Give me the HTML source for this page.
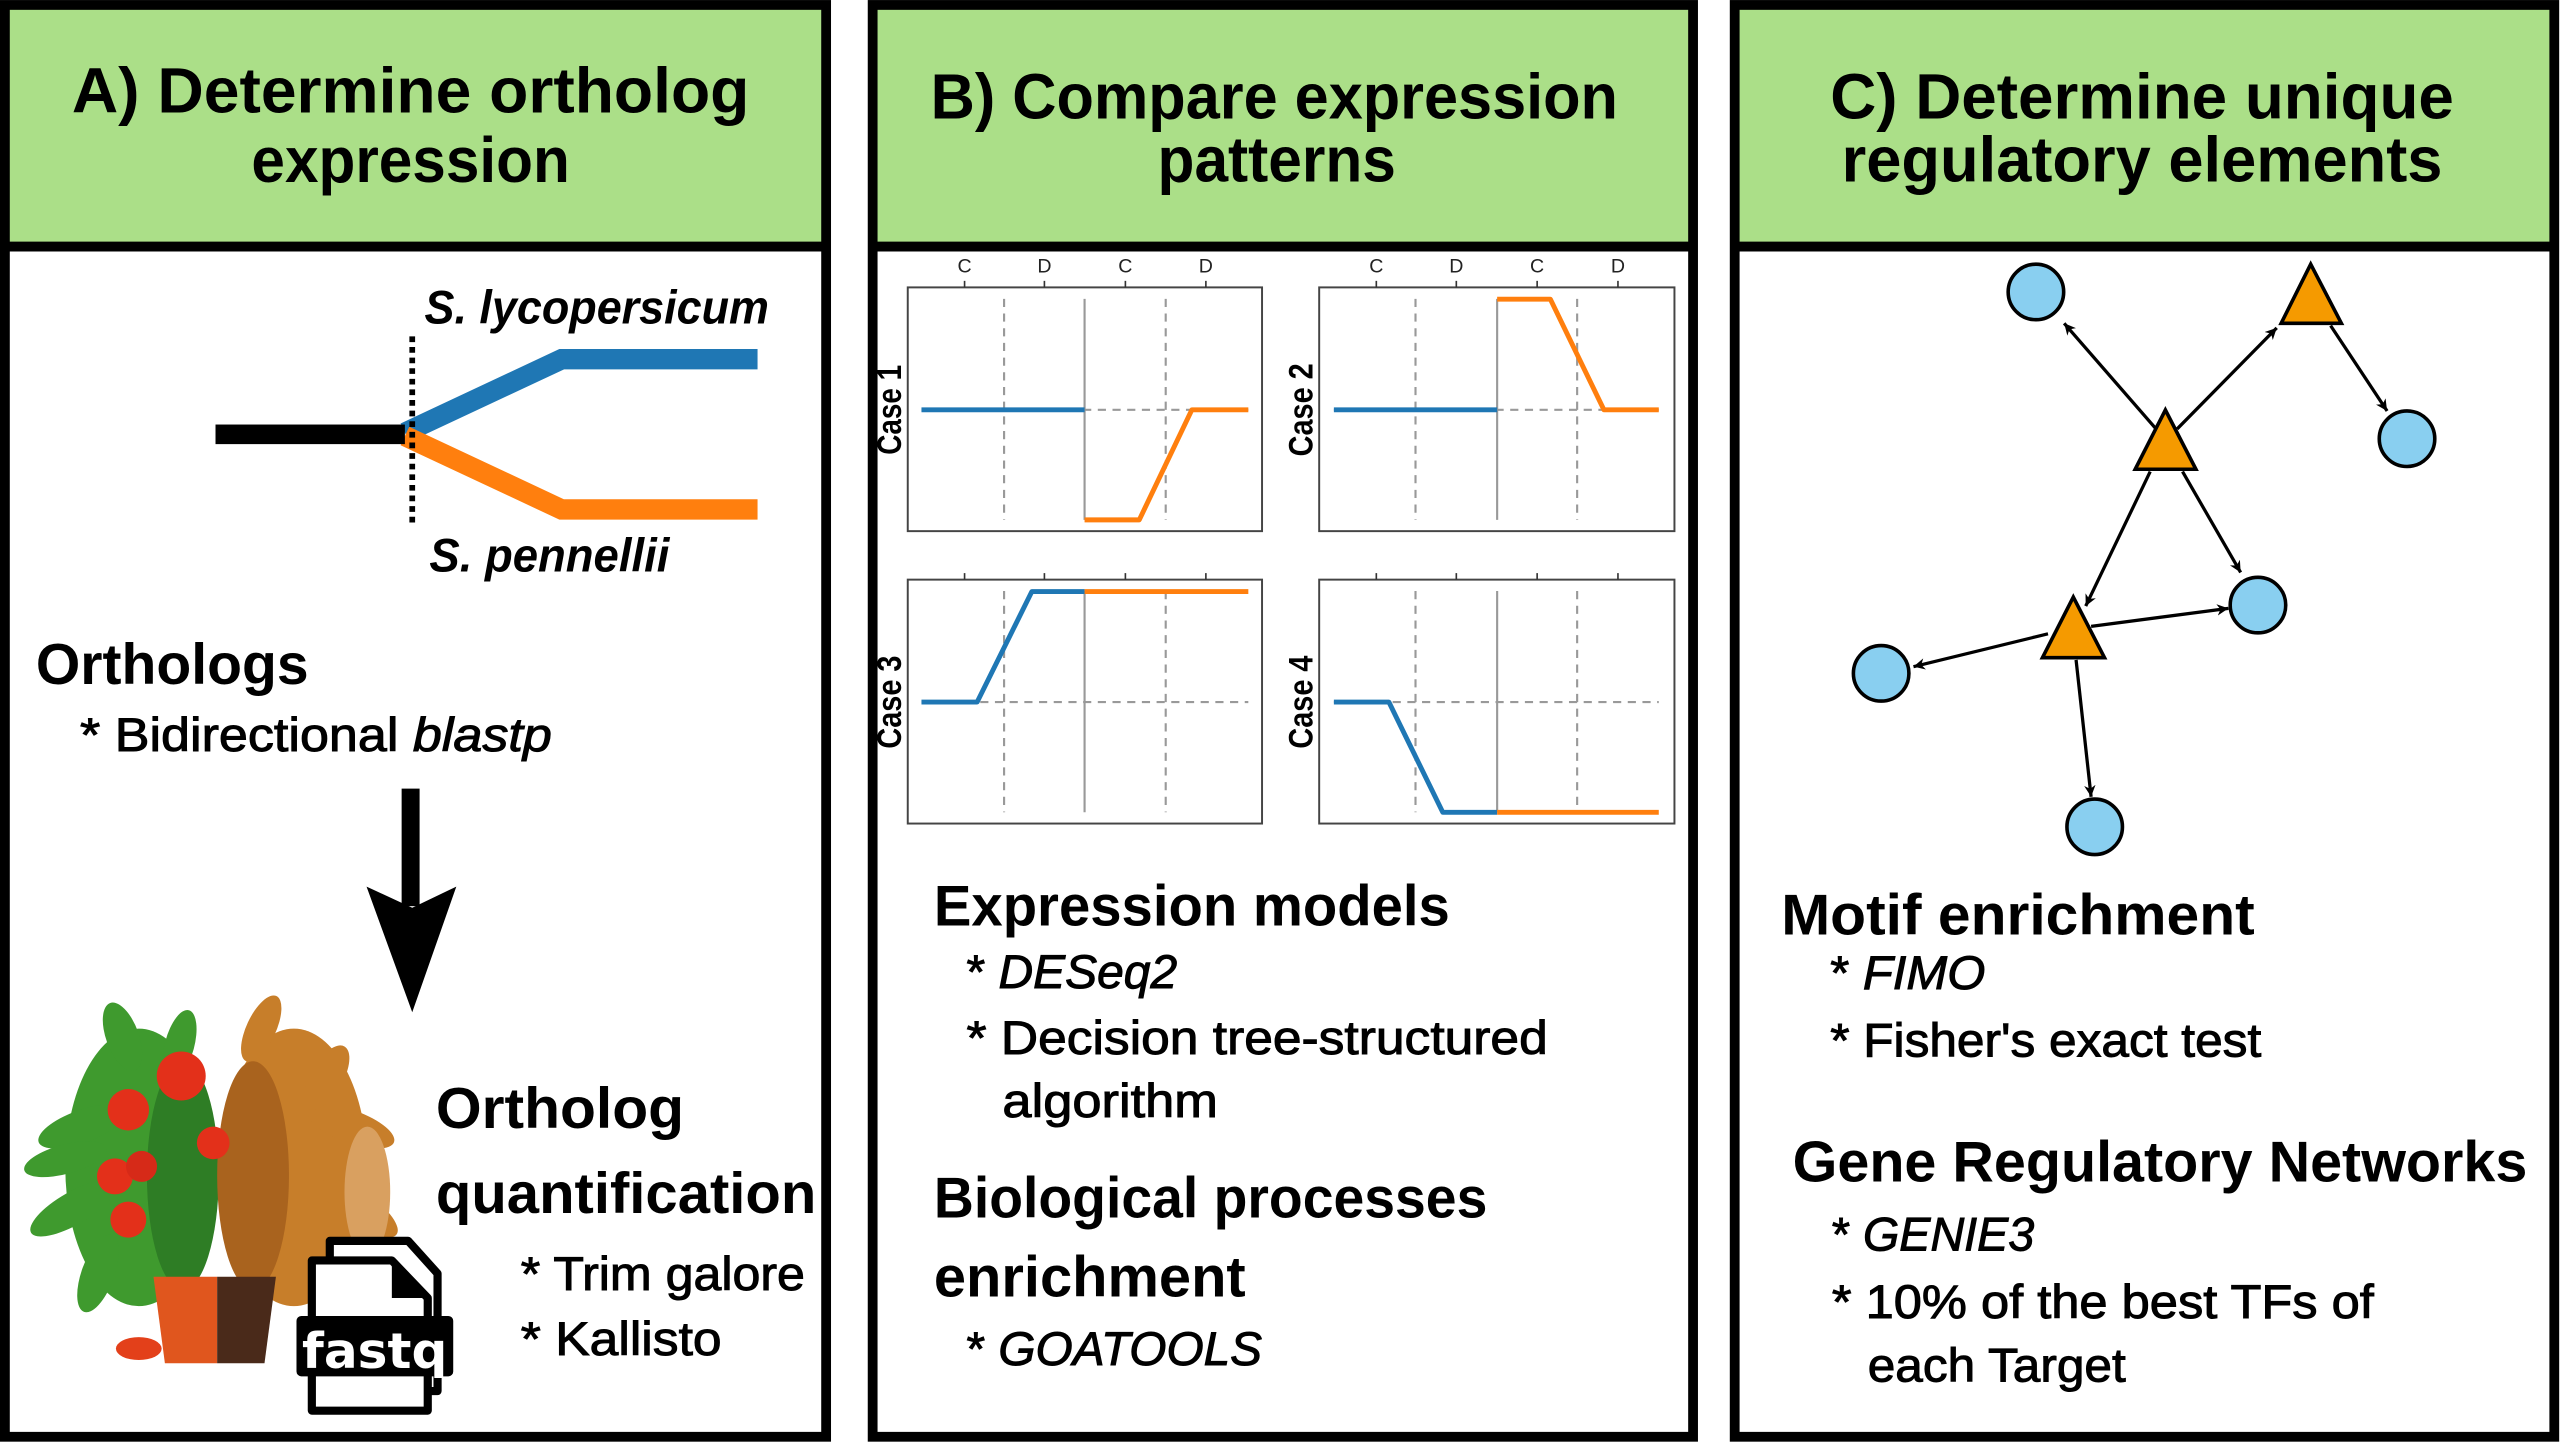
<!DOCTYPE html>
<html><head><meta charset="utf-8"><style>
html,body{margin:0;padding:0;background:#fff;}
svg{display:block;}
text{font-family:"Liberation Sans",sans-serif;fill:#000;}
.t{font-weight:bold;font-size:39px;}
.h{font-weight:bold;font-size:35px;}
.s{font-size:29px;stroke:#000;stroke-width:0.6px;}
.tk{font-size:12px;fill:#222;}
.cs{font-weight:bold;font-size:21px;}
</style></head><body>
<svg width="2560" height="1444" viewBox="0 0 1568 884.4" xmlns="http://www.w3.org/2000/svg">
<rect width="1568" height="885" fill="#fff"/>
<rect x="3" y="3" width="503" height="147" fill="#abdf88"/>
<rect x="534.5" y="3" width="502.5" height="147" fill="#abdf88"/>
<rect x="1062.5" y="3" width="502" height="147" fill="#abdf88"/>
<g stroke="#000" stroke-width="6" fill="none">
<rect x="3" y="3" width="503" height="877"/>
<rect x="534.5" y="3" width="502.5" height="877"/>
<rect x="1062.5" y="3" width="502" height="877"/>
<line x1="3" y1="151" x2="506" y2="151"/>
<line x1="534.5" y1="151" x2="1037" y2="151"/>
<line x1="1062.5" y1="151" x2="1564.5" y2="151"/>
</g>
<text class="t" x="44" y="69" textLength="415" lengthAdjust="spacingAndGlyphs">A) Determine ortholog</text>
<text class="t" x="154" y="111.5" textLength="195" lengthAdjust="spacingAndGlyphs">expression</text>
<text class="t" x="570" y="72.5" textLength="421" lengthAdjust="spacingAndGlyphs">B) Compare expression</text>
<text class="t" x="709" y="111" textLength="146" lengthAdjust="spacingAndGlyphs">patterns</text>
<text class="t" x="1121" y="72.5" textLength="382" lengthAdjust="spacingAndGlyphs">C) Determine unique</text>
<text class="t" x="1128" y="111" textLength="368" lengthAdjust="spacingAndGlyphs">regulatory elements</text>

<polyline points="248,265 344,220 464,220" fill="none" stroke="#1f77b4" stroke-width="12.5"/>
<polyline points="248,267 344,312 464,312" fill="none" stroke="#ff7f0e" stroke-width="12.5"/>
<rect x="132" y="260" width="116" height="12" fill="#000"/>
<line x1="252.5" y1="206" x2="252.5" y2="322" stroke="#000" stroke-width="3.5" stroke-dasharray="3.5,3"/>
<text x="260" y="198" style="font-weight:bold;font-style:italic;font-size:29px" textLength="211" lengthAdjust="spacingAndGlyphs">S. lycopersicum</text>
<text x="263" y="350" style="font-weight:bold;font-style:italic;font-size:29px" textLength="147" lengthAdjust="spacingAndGlyphs">S. pennellii</text>
<text class="h" x="22" y="419" textLength="167" lengthAdjust="spacingAndGlyphs">Orthologs</text>
<text class="s" x="49" y="460" textLength="289" lengthAdjust="spacingAndGlyphs">* Bidirectional <tspan font-style="italic">blastp</tspan></text>
<rect x="246" y="483" width="11" height="72" fill="#000"/>
<polygon points="224.5,543 252.5,556 279.5,543 252.5,620" fill="#000"/>
<!-- plant -->
<g>
<g fill="#3f9a2e">
<ellipse cx="85" cy="715" rx="45" ry="85"/>
<ellipse cx="50" cy="690" rx="28" ry="10" transform="rotate(-20 50 690)"/>
<ellipse cx="45" cy="740" rx="30" ry="10" transform="rotate(-30 45 740)"/>
<ellipse cx="60" cy="780" rx="10" ry="25" transform="rotate(20 60 780)"/>
<ellipse cx="75" cy="635" rx="10" ry="22" transform="rotate(-20 75 635)"/>
<ellipse cx="110" cy="640" rx="9" ry="22" transform="rotate(15 110 640)"/>
<ellipse cx="40" cy="710" rx="26" ry="9" transform="rotate(-15 40 710)"/>
</g>
<ellipse cx="112" cy="720" rx="22" ry="70" fill="#2e7d25"/>
<g fill="#c77e2a">
<ellipse cx="180" cy="715" rx="45" ry="85"/>
<ellipse cx="215" cy="690" rx="28" ry="10" transform="rotate(20 215 690)"/>
<ellipse cx="220" cy="740" rx="28" ry="10" transform="rotate(35 220 740)"/>
<ellipse cx="160" cy="630" rx="9" ry="22" transform="rotate(25 160 630)"/>
<ellipse cx="200" cy="660" rx="10" ry="22" transform="rotate(30 200 660)"/>
</g>
<ellipse cx="155" cy="720" rx="22" ry="70" fill="#a9631e"/>
<ellipse cx="225" cy="730" rx="14" ry="40" fill="#d9a060"/>
<polygon points="94,782 133,782 133,835 101,835" fill="#e0561e"/>
<polygon points="133,782 169,782 162,835 133,835" fill="#4a2a1a"/>
<circle cx="78.6" cy="679.7" r="12.7" fill="#e3301a"/>
<circle cx="111" cy="659" r="15" fill="#e3301a"/>
<circle cx="70.4" cy="720.5" r="11" fill="#e3301a"/>
<circle cx="86.7" cy="714.4" r="9.5" fill="#d62a18"/>
<circle cx="78.6" cy="747" r="11" fill="#e3301a"/>
<circle cx="130.6" cy="700" r="10" fill="#e3301a"/>
<ellipse cx="85" cy="826" rx="14" ry="7" fill="#e3401a"/>
</g>
<g stroke="#000" stroke-width="5" fill="#fff" stroke-linejoin="round">
<path d="M202,760 L250,760 L268,780 L268,852 L202,852 Z"/>
<path d="M191,772 L240,772 L262,795 L262,864 L191,864 Z"/>
</g>
<path d="M240,772 L240,795 L262,795 Z" fill="#000"/>
<rect x="181.6" y="806" width="96" height="37" rx="3" fill="#000"/>
<text x="185" y="838" style="font-family:'DejaVu Sans',sans-serif;font-weight:bold;font-size:30px;fill:#fff" textLength="89" lengthAdjust="spacingAndGlyphs">fastq</text>
<text class="h" x="267" y="691" textLength="152" lengthAdjust="spacingAndGlyphs">Ortholog</text>
<text class="h" x="267" y="743" textLength="233" lengthAdjust="spacingAndGlyphs">quantification</text>
<text class="s" x="319" y="790" textLength="174" lengthAdjust="spacingAndGlyphs">* Trim galore</text>
<text class="s" x="319" y="830" textLength="123" lengthAdjust="spacingAndGlyphs">* Kallisto</text>

<g fill="none">
<rect x="556" y="176" width="217" height="149.3" stroke="#444" stroke-width="1.2"/>
<rect x="808" y="176" width="217.6" height="149.3" stroke="#444" stroke-width="1.2"/>
<rect x="556" y="355" width="217" height="149.4" stroke="#444" stroke-width="1.2"/>
<rect x="808" y="355" width="217.6" height="149.4" stroke="#444" stroke-width="1.2"/>
<g stroke="#333" stroke-width="1">
<line x1="590.8" y1="172" x2="590.8" y2="176"/><line x1="639.7" y1="172" x2="639.7" y2="176"/><line x1="689.3" y1="172" x2="689.3" y2="176"/><line x1="738.6" y1="172" x2="738.6" y2="176"/>
<line x1="843" y1="172" x2="843" y2="176"/><line x1="892" y1="172" x2="892" y2="176"/><line x1="941.5" y1="172" x2="941.5" y2="176"/><line x1="991" y1="172" x2="991" y2="176"/>
<line x1="590.8" y1="351" x2="590.8" y2="355"/><line x1="639.7" y1="351" x2="639.7" y2="355"/><line x1="689.3" y1="351" x2="689.3" y2="355"/><line x1="738.6" y1="351" x2="738.6" y2="355"/>
<line x1="843" y1="351" x2="843" y2="355"/><line x1="892" y1="351" x2="892" y2="355"/><line x1="941.5" y1="351" x2="941.5" y2="355"/><line x1="991" y1="351" x2="991" y2="355"/>
</g>
<g stroke="#999" stroke-width="1.3" stroke-dasharray="5,4">
<line x1="615" y1="183" x2="615" y2="318.4"/><line x1="714" y1="183" x2="714" y2="318.4"/>
<line x1="867" y1="183" x2="867" y2="318.4"/><line x1="966" y1="183" x2="966" y2="318.4"/>
<line x1="615" y1="362" x2="615" y2="497.5"/><line x1="714" y1="362" x2="714" y2="497.5"/>
<line x1="867" y1="362" x2="867" y2="497.5"/><line x1="966" y1="362" x2="966" y2="497.5"/>
<line x1="564.4" y1="251" x2="764.6" y2="251"/><line x1="817" y1="251" x2="1016" y2="251"/>
<line x1="564.4" y1="430" x2="764.6" y2="430"/><line x1="817" y1="430" x2="1016" y2="430"/>
</g>
<g stroke="#999" stroke-width="1.3">
<line x1="664.3" y1="183" x2="664.3" y2="318.4"/><line x1="917" y1="183" x2="917" y2="318.4"/>
<line x1="664.3" y1="362" x2="664.3" y2="497.5"/><line x1="917" y1="362" x2="917" y2="497.5"/>
</g>
<g stroke-width="3" stroke-linejoin="round">
<polyline points="564.4,251 664.3,251" stroke="#1f77b4"/>
<polyline points="664.3,318.4 697.8,318.4 730,251 764.6,251" stroke="#ff7f0e"/>
<polyline points="817,251 917,251" stroke="#1f77b4"/>
<polyline points="917,183.2 949.6,183.2 982.4,251 1016,251" stroke="#ff7f0e"/>
<polyline points="564.4,430 598.5,430 632,362.3 664.3,362.3" stroke="#1f77b4"/>
<polyline points="664.3,362.3 764.6,362.3" stroke="#ff7f0e"/>
<polyline points="817,430 850.7,430 883.7,497.5 917,497.5" stroke="#1f77b4"/>
<polyline points="917,497.5 1016,497.5" stroke="#ff7f0e"/>
</g>
</g>
<g text-anchor="middle">
<text class="tk" x="590.8" y="167">C</text><text class="tk" x="639.7" y="167">D</text><text class="tk" x="689.3" y="167">C</text><text class="tk" x="738.6" y="167">D</text>
<text class="tk" x="843" y="167">C</text><text class="tk" x="892" y="167">D</text><text class="tk" x="941.5" y="167">C</text><text class="tk" x="991" y="167">D</text>
<text class="cs" transform="translate(552,251) rotate(-90)" textLength="55" lengthAdjust="spacingAndGlyphs">Case 1</text>
<text class="cs" transform="translate(804,251) rotate(-90)" textLength="57" lengthAdjust="spacingAndGlyphs">Case 2</text>
<text class="cs" transform="translate(552,430) rotate(-90)" textLength="57" lengthAdjust="spacingAndGlyphs">Case 3</text>
<text class="cs" transform="translate(804,430) rotate(-90)" textLength="57" lengthAdjust="spacingAndGlyphs">Case 4</text>
</g>
<text class="h" x="572" y="567" textLength="316" lengthAdjust="spacingAndGlyphs">Expression models</text>
<text class="s" x="592" y="605" textLength="129" lengthAdjust="spacingAndGlyphs">* <tspan font-style="italic">DESeq2</tspan></text>
<text class="s" x="592" y="645.7" textLength="356" lengthAdjust="spacingAndGlyphs">* Decision tree-structured</text>
<text class="s" x="614" y="684" textLength="132" lengthAdjust="spacingAndGlyphs">algorithm</text>
<text class="h" x="572" y="745.7" textLength="339" lengthAdjust="spacingAndGlyphs">Biological processes</text>
<text class="h" x="572" y="794" textLength="191" lengthAdjust="spacingAndGlyphs">enrichment</text>
<text class="s" x="592" y="836" textLength="181" lengthAdjust="spacingAndGlyphs">* <tspan font-style="italic">GOATOOLS</tspan></text>

<defs>
<marker id="ar" viewBox="0 0 10 10" refX="10" refY="5" markerWidth="7" markerHeight="7" orient="auto" markerUnits="userSpaceOnUse">
<path d="M0,0 L10,5 L0,10 L3,5 Z" fill="#000"/>
</marker>
</defs>
<g stroke="#000" stroke-width="2" marker-end="url(#ar)" fill="none">
<line x1="1320" y1="262" x2="1264.3" y2="198"/>
<line x1="1333.5" y1="262.7" x2="1394.5" y2="200.8"/>
<line x1="1427.5" y1="199.4" x2="1462.1" y2="251.7"/>
<line x1="1317" y1="288.8" x2="1277.5" y2="371.2"/>
<line x1="1336.8" y1="288.8" x2="1372.4" y2="350.6"/>
<line x1="1280.8" y1="383.6" x2="1364.9" y2="372.6"/>
<line x1="1254.4" y1="388.2" x2="1172" y2="408.3"/>
<line x1="1271.6" y1="404.2" x2="1280.8" y2="488"/>
</g>
<g fill="#89cff0" stroke="#000" stroke-width="2.2">
<circle cx="1247" cy="178.8" r="17"/>
<circle cx="1474.3" cy="268.7" r="17"/>
<circle cx="1383" cy="370.6" r="17"/>
<circle cx="1152.2" cy="412.4" r="17"/>
<circle cx="1283" cy="506.4" r="17"/>
</g>
<g fill="#f59a00" stroke="#000" stroke-width="2.2">
<polygon points="1415.3,161.8 1434.1,198 1397.2,198"/>
<polygon points="1326.3,251.1 1345,287.4 1307.8,287.4"/>
<polygon points="1269.9,365.7 1289,402.8 1251,402.8"/>
</g>
<text class="h" x="1091" y="572.4" textLength="290" lengthAdjust="spacingAndGlyphs">Motif enrichment</text>
<text class="s" x="1121" y="605.7" textLength="95" lengthAdjust="spacingAndGlyphs">* <tspan font-style="italic">FIMO</tspan></text>
<text class="s" x="1121" y="647" textLength="264" lengthAdjust="spacingAndGlyphs">* Fisher's exact test</text>
<text class="h" x="1098" y="723.7" textLength="450" lengthAdjust="spacingAndGlyphs">Gene Regulatory Networks</text>
<text class="s" x="1122" y="766" textLength="124" lengthAdjust="spacingAndGlyphs">* <tspan font-style="italic">GENIE3</tspan></text>
<text class="s" x="1122" y="807.4" textLength="332" lengthAdjust="spacingAndGlyphs">* 10% of the best TFs of</text>
<text class="s" x="1144" y="846.3" textLength="158" lengthAdjust="spacingAndGlyphs">each Target</text>
</svg>
</body></html>
